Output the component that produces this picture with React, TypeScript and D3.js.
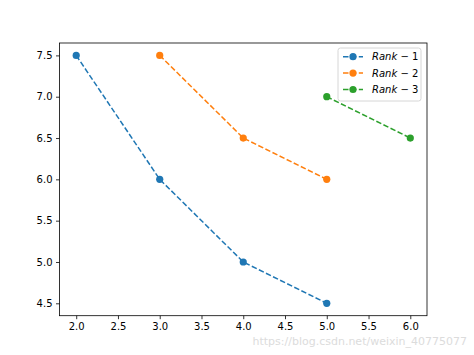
import { useEffect, useRef } from "react"
import * as d3 from "d3"

const rank1X = [2, 3, 4, 5]
const rank1Y = [7.5, 6.0, 5.0, 4.5]
const rank2X = [3, 4, 5]
const rank2Y = [7.5, 6.5, 6.0]
const rank3X = [5, 6]
const rank3Y = [7.0, 6.5]
const seriesNames = ["1", "2", "3"]
const colors = ["#1f77b4", "#ff7f0e", "#2ca02c"]
const xTicks = [2.0, 2.5, 3.0, 3.5, 4.0, 4.5, 5.0, 5.5, 6.0]
const yTicks = [4.5, 5.0, 5.5, 6.0, 6.5, 7.0, 7.5]

export default function App() {
  const svgRef = useRef<SVGSVGElement>(null)

  useEffect(() => {
    if (!svgRef.current) return
    const W = 474
    const H = 355
    const left = 59.5
    const right = 427
    const top = 43
    const bottom = 315.7

    const svg = d3.select(svgRef.current)
    svg.selectAll("*").remove()
    svg.attr("width", W).attr("height", H)
    svg.append("rect").attr("width", W).attr("height", H).attr("fill", "white")

    const x = d3.scaleLinear().domain([1.8, 6.2]).range([left, right])
    const y = d3.scaleLinear().domain([4.35, 7.65]).range([bottom, top])

    const series = [
      { xs: rank1X, ys: rank1Y },
      { xs: rank2X, ys: rank2Y },
      { xs: rank3X, ys: rank3Y },
    ]

    const line = d3
      .line<[number, number]>()
      .x((d) => x(d[0]))
      .y((d) => y(d[1]))

    series.forEach((s, i) => {
      const pts: [number, number][] = s.xs.map((v, j) => [v, s.ys[j]])
      svg
        .append("path")
        .attr("d", line(pts))
        .attr("fill", "none")
        .attr("stroke", colors[i])
        .attr("stroke-width", 1.5)
        .attr("stroke-dasharray", "5.5,2.4")
      svg
        .selectAll(`.pt${i}`)
        .data(pts)
        .enter()
        .append("circle")
        .attr("cx", (d) => x(d[0]))
        .attr("cy", (d) => y(d[1]))
        .attr("r", 3.6)
        .attr("fill", colors[i])
    })

    // Axes
    const gx = svg
      .append("g")
      .attr("transform", `translate(0,${bottom})`)
      .call(d3.axisBottom(x).tickValues(xTicks).tickFormat(d3.format(".1f")).tickSize(3.5).tickPadding(3.5))
    const gy = svg
      .append("g")
      .attr("transform", `translate(${left},0)`)
      .call(d3.axisLeft(y).tickValues(yTicks).tickFormat(d3.format(".1f")).tickSize(3.5).tickPadding(3.5))
    ;[gx, gy].forEach((g) => {
      g.select(".domain").remove()
      g.selectAll("line").attr("stroke", "#000").attr("stroke-width", 0.8)
      g.selectAll("text")
        .attr("fill", "#000")
        .style("font-family", "DejaVu Sans")
        .style("font-size", "10px")
    })

    // Frame
    svg
      .append("rect")
      .attr("x", left)
      .attr("y", top)
      .attr("width", right - left)
      .attr("height", bottom - top)
      .attr("fill", "none")
      .attr("stroke", "#000")
      .attr("stroke-width", 0.8)

    // Legend
    const lg = svg.append("g")
    lg.append("rect")
      .attr("x", 338)
      .attr("y", 48)
      .attr("width", 83)
      .attr("height", 53)
      .attr("rx", 2.5)
      .attr("fill", "white")
      .attr("fill-opacity", 0.8)
      .attr("stroke", "#cccccc")
      .attr("stroke-width", 0.8)
    seriesNames.forEach((n, i) => {
      const ry = 56.7 + i * 16.4
      lg.append("line")
        .attr("x1", 343)
        .attr("x2", 363)
        .attr("y1", ry)
        .attr("y2", ry)
        .attr("stroke", colors[i])
        .attr("stroke-width", 1.5)
        .attr("stroke-dasharray", "5.5,2.4")
      lg.append("circle").attr("cx", 353).attr("cy", ry).attr("r", 3.6).attr("fill", colors[i])
      const t = lg
        .append("text")
        .attr("x", 372)
        .attr("y", ry + 3.6)
        .style("font-family", "DejaVu Sans")
        .style("font-size", "10px")
        .attr("fill", "#000")
      t.append("tspan").style("font-style", "italic").text("Rank")
      t.append("tspan").text(` \u2212 ${n}`)
    })

    // Watermark
    svg
      .append("text")
      .attr("x", 467)
      .attr("y", 345)
      .attr("text-anchor", "end")
      .style("font-family", "DejaVu Sans")
      .style("font-size", "11px")
      .attr("fill", "#dcdcdc")
      .text("https://blog.csdn.net/weixin_40775077")
  }, [])

  return <svg ref={svgRef} style={{ position: "absolute", left: 0, top: 0 }} />
}
